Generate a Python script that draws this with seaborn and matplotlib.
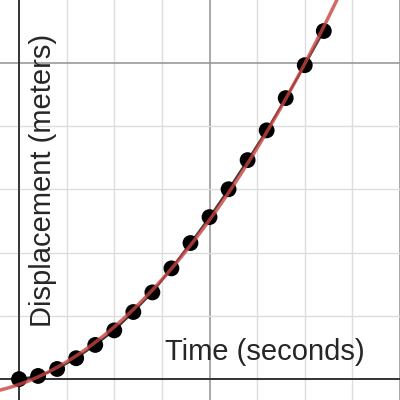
import numpy as np
import matplotlib
matplotlib.use("Agg")
import matplotlib.pyplot as plt
import seaborn as sns

time_s = [0, 0.4, 0.8, 1.2, 1.6, 2.0, 2.4, 2.8, 3.2, 3.6, 4.0, 4.4, 4.8, 5.2, 5.6, 6.0, 6.4]
disp_m = [0, 0.05, 0.16, 0.33, 0.54, 0.77, 1.06, 1.37, 1.75, 2.15, 2.56, 3.00, 3.46, 3.93, 4.44, 4.96, 5.50]

sns.set_style("white")
plt.rcParams['font.family'] = ['Liberation Sans', 'DejaVu Sans']
fig = plt.figure(figsize=(4, 4), dpi=100)
ax = fig.add_axes([0, 0, 1, 1])
xmin, xmax = -0.4, 8.0
ymin, ymax = -0.33, 5.99
ax.set_xlim(xmin, xmax)
ax.set_ylim(ymin, ymax)
for gx in np.arange(0, 9):
    major = gx % 4 == 0
    ax.axvline(gx, color='#999999' if major else '#dddddd', lw=1.2 if major else 1, zorder=0)
for gy in np.arange(0, 6):
    major = gy % 5 == 0
    ax.axhline(gy, color='#999999' if major else '#dddddd', lw=1.2 if major else 1, zorder=0)
ax.axhline(0, color='#222222', lw=1.2, zorder=1)
ax.axvline(0, color='#222222', lw=1.2, zorder=1)

sns.lineplot(x=time_s, y=disp_m, color='#333333', lw=1.5, ax=ax, zorder=2)
sns.scatterplot(x=time_s, y=disp_m, color='black', s=130, edgecolor='none', ax=ax, zorder=3)
coef = np.polyfit(time_s, disp_m, 2)
xs = np.linspace(xmin, xmax, 300)
sns.lineplot(x=xs, y=np.polyval(coef, xs), color='#c74440', alpha=0.8, lw=2.5, ax=ax, zorder=4)

ax.text(3.07, 0.2, "Time (seconds)", fontsize=21, ha='left', va='bottom')
ax.text(0.5, 3.14, "Displacement (meters)", fontsize=21, rotation=90, ha='center', va='center')
ax.set_xticks([]); ax.set_yticks([])
for s in ax.spines.values():
    s.set_visible(False)
fig.savefig("out.png", dpi=100)
